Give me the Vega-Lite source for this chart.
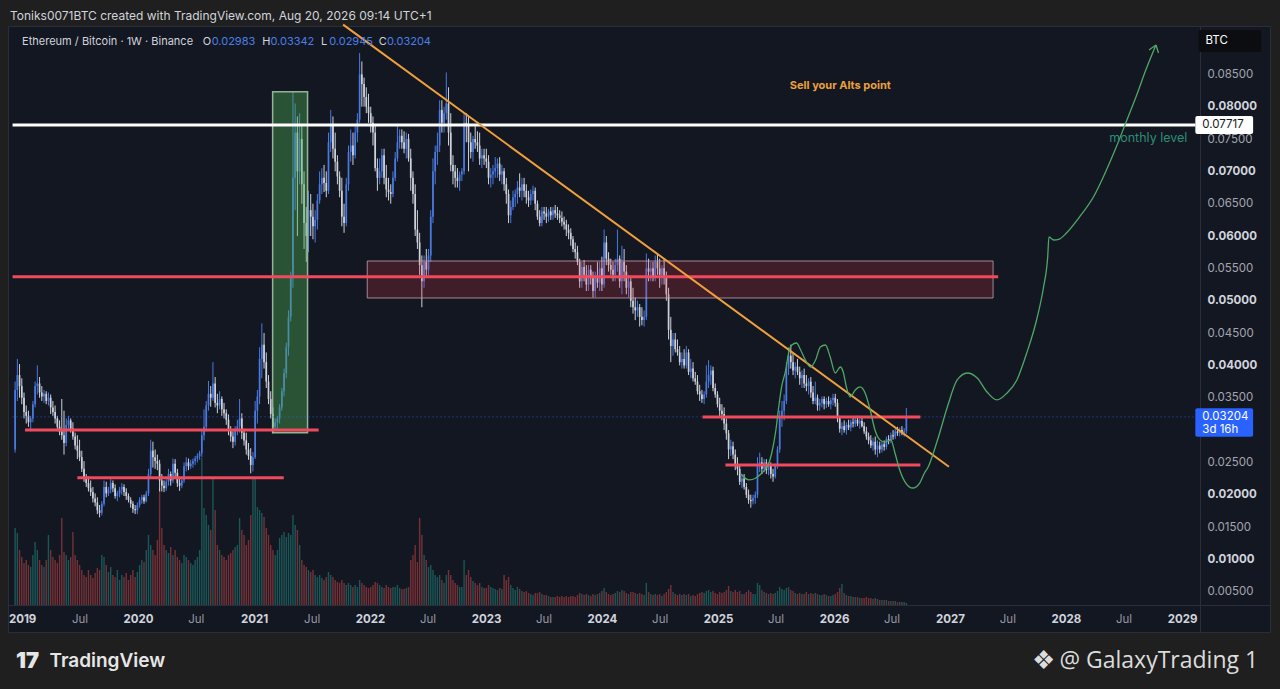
{
  "$schema": "https://vega.github.io/schema/vega-lite/v6.json",
  "width": 1262,
  "height": 606,
  "autosize": "none",
  "padding": {"left": 8, "top": 26, "right": 10, "bottom": 57},
  "background": "#1f1f1f",
  "config": {"view": {"fill": "#131722", "stroke": "#2a2e39"}, "font": "Inter", "axis": {"labelOverlap": false}},
  "title": {"text": "Toniks0071BTC created with TradingView.com, Aug 20, 2026 09:14 UTC+1", "anchor": "start", "frame": "group", "offset": 1, "dx": 2, "fontSize": 12, "fontWeight": "normal", "color": "#d1d4dc", "font": "Inter"},
  "datasets": {
    "candles": [
      {"t":"2018-12-10","o":0.0270,"h":0.0375,"l":0.0265,"c":0.0362,"v":770},
      {"t":"2018-12-17","o":0.0362,"h":0.0410,"l":0.0345,"c":0.0385,"v":720},
      {"t":"2018-12-24","o":0.0385,"h":0.0402,"l":0.0350,"c":0.0368,"v":550},
      {"t":"2018-12-31","o":0.0368,"h":0.0380,"l":0.0340,"c":0.0350,"v":480},
      {"t":"2019-01-07","o":0.0350,"h":0.0358,"l":0.0318,"c":0.0328,"v":420},
      {"t":"2019-01-14","o":0.0328,"h":0.0338,"l":0.0310,"c":0.0322,"v":450},
      {"t":"2019-01-21","o":0.0322,"h":0.0330,"l":0.0305,"c":0.0312,"v":400},
      {"t":"2019-01-28","o":0.0312,"h":0.0322,"l":0.0298,"c":0.0318,"v":380},
      {"t":"2019-02-04","o":0.0318,"h":0.0345,"l":0.0312,"c":0.0340,"v":500},
      {"t":"2019-02-11","o":0.0340,"h":0.0375,"l":0.0335,"c":0.0368,"v":630},
      {"t":"2019-02-18","o":0.0368,"h":0.0400,"l":0.0355,"c":0.0372,"v":550},
      {"t":"2019-02-25","o":0.0372,"h":0.0382,"l":0.0350,"c":0.0358,"v":450},
      {"t":"2019-03-04","o":0.0358,"h":0.0368,"l":0.0345,"c":0.0352,"v":400},
      {"t":"2019-03-11","o":0.0352,"h":0.0362,"l":0.0342,"c":0.0356,"v":380},
      {"t":"2019-03-18","o":0.0356,"h":0.0360,"l":0.0340,"c":0.0345,"v":450},
      {"t":"2019-03-25","o":0.0345,"h":0.0358,"l":0.0338,"c":0.0350,"v":700},
      {"t":"2019-04-01","o":0.0350,"h":0.0355,"l":0.0325,"c":0.0335,"v":550},
      {"t":"2019-04-08","o":0.0335,"h":0.0345,"l":0.0322,"c":0.0328,"v":480},
      {"t":"2019-04-15","o":0.0328,"h":0.0338,"l":0.0310,"c":0.0318,"v":450},
      {"t":"2019-04-22","o":0.0318,"h":0.0322,"l":0.0298,"c":0.0305,"v":420},
      {"t":"2019-04-29","o":0.0305,"h":0.0315,"l":0.0292,"c":0.0298,"v":500},
      {"t":"2019-05-06","o":0.0298,"h":0.0348,"l":0.0285,"c":0.0292,"v":870},
      {"t":"2019-05-13","o":0.0292,"h":0.0330,"l":0.0262,"c":0.0280,"v":530},
      {"t":"2019-05-20","o":0.0280,"h":0.0318,"l":0.0275,"c":0.0308,"v":500},
      {"t":"2019-05-27","o":0.0308,"h":0.0322,"l":0.0300,"c":0.0315,"v":450},
      {"t":"2019-06-03","o":0.0315,"h":0.0318,"l":0.0296,"c":0.0302,"v":480},
      {"t":"2019-06-10","o":0.0302,"h":0.0312,"l":0.0285,"c":0.0290,"v":730},
      {"t":"2019-06-17","o":0.0290,"h":0.0296,"l":0.0270,"c":0.0276,"v":500},
      {"t":"2019-06-24","o":0.0276,"h":0.0292,"l":0.0255,"c":0.0268,"v":450},
      {"t":"2019-07-01","o":0.0268,"h":0.0285,"l":0.0252,"c":0.0258,"v":400},
      {"t":"2019-07-08","o":0.0258,"h":0.0268,"l":0.0235,"c":0.0240,"v":350},
      {"t":"2019-07-15","o":0.0240,"h":0.0252,"l":0.0220,"c":0.0226,"v":300},
      {"t":"2019-07-22","o":0.0226,"h":0.0232,"l":0.0212,"c":0.0218,"v":280},
      {"t":"2019-07-29","o":0.0218,"h":0.0228,"l":0.0205,"c":0.0210,"v":350},
      {"t":"2019-08-05","o":0.0210,"h":0.0222,"l":0.0198,"c":0.0204,"v":300},
      {"t":"2019-08-12","o":0.0204,"h":0.0212,"l":0.0188,"c":0.0194,"v":270},
      {"t":"2019-08-19","o":0.0194,"h":0.0202,"l":0.0182,"c":0.0188,"v":320},
      {"t":"2019-08-26","o":0.0188,"h":0.0196,"l":0.0170,"c":0.0176,"v":370},
      {"t":"2019-09-02","o":0.0176,"h":0.0184,"l":0.0165,"c":0.0172,"v":350},
      {"t":"2019-09-09","o":0.0172,"h":0.0190,"l":0.0168,"c":0.0186,"v":500},
      {"t":"2019-09-16","o":0.0186,"h":0.0222,"l":0.0182,"c":0.0212,"v":480},
      {"t":"2019-09-23","o":0.0212,"h":0.0220,"l":0.0196,"c":0.0202,"v":400},
      {"t":"2019-09-30","o":0.0202,"h":0.0212,"l":0.0198,"c":0.0208,"v":330},
      {"t":"2019-10-07","o":0.0208,"h":0.0224,"l":0.0202,"c":0.0218,"v":380},
      {"t":"2019-10-14","o":0.0218,"h":0.0222,"l":0.0204,"c":0.0210,"v":300},
      {"t":"2019-10-21","o":0.0210,"h":0.0216,"l":0.0194,"c":0.0198,"v":280},
      {"t":"2019-10-28","o":0.0198,"h":0.0206,"l":0.0190,"c":0.0202,"v":350},
      {"t":"2019-11-04","o":0.0202,"h":0.0212,"l":0.0196,"c":0.0208,"v":250},
      {"t":"2019-11-11","o":0.0208,"h":0.0218,"l":0.0200,"c":0.0212,"v":300},
      {"t":"2019-11-18","o":0.0212,"h":0.0216,"l":0.0198,"c":0.0204,"v":280},
      {"t":"2019-11-25","o":0.0204,"h":0.0210,"l":0.0192,"c":0.0198,"v":320},
      {"t":"2019-12-02","o":0.0198,"h":0.0202,"l":0.0188,"c":0.0192,"v":250},
      {"t":"2019-12-09","o":0.0192,"h":0.0196,"l":0.0180,"c":0.0186,"v":300},
      {"t":"2019-12-16","o":0.0186,"h":0.0190,"l":0.0172,"c":0.0178,"v":350},
      {"t":"2019-12-23","o":0.0178,"h":0.0184,"l":0.0170,"c":0.0176,"v":280},
      {"t":"2019-12-30","o":0.0176,"h":0.0188,"l":0.0170,"c":0.0184,"v":330},
      {"t":"2020-01-06","o":0.0184,"h":0.0196,"l":0.0180,"c":0.0192,"v":400},
      {"t":"2020-01-13","o":0.0192,"h":0.0200,"l":0.0186,"c":0.0196,"v":450},
      {"t":"2020-01-20","o":0.0196,"h":0.0200,"l":0.0186,"c":0.0190,"v":430},
      {"t":"2020-01-27","o":0.0190,"h":0.0206,"l":0.0188,"c":0.0202,"v":550},
      {"t":"2020-02-03","o":0.0202,"h":0.0240,"l":0.0198,"c":0.0232,"v":700},
      {"t":"2020-02-10","o":0.0232,"h":0.0285,"l":0.0228,"c":0.0268,"v":600},
      {"t":"2020-02-17","o":0.0268,"h":0.0282,"l":0.0242,"c":0.0258,"v":550},
      {"t":"2020-02-24","o":0.0258,"h":0.0270,"l":0.0240,"c":0.0252,"v":500},
      {"t":"2020-03-02","o":0.0252,"h":0.0262,"l":0.0238,"c":0.0248,"v":650},
      {"t":"2020-03-09","o":0.0248,"h":0.0254,"l":0.0205,"c":0.0222,"v":1170},
      {"t":"2020-03-16","o":0.0222,"h":0.0232,"l":0.0205,"c":0.0214,"v":770},
      {"t":"2020-03-23","o":0.0214,"h":0.0222,"l":0.0204,"c":0.0210,"v":600},
      {"t":"2020-03-30","o":0.0210,"h":0.0224,"l":0.0206,"c":0.0220,"v":550},
      {"t":"2020-04-06","o":0.0220,"h":0.0240,"l":0.0214,"c":0.0232,"v":520},
      {"t":"2020-04-13","o":0.0232,"h":0.0236,"l":0.0214,"c":0.0222,"v":580},
      {"t":"2020-04-20","o":0.0222,"h":0.0256,"l":0.0218,"c":0.0248,"v":500},
      {"t":"2020-04-27","o":0.0248,"h":0.0255,"l":0.0225,"c":0.0234,"v":550},
      {"t":"2020-05-04","o":0.0234,"h":0.0240,"l":0.0212,"c":0.0218,"v":480},
      {"t":"2020-05-11","o":0.0218,"h":0.0226,"l":0.0206,"c":0.0214,"v":450},
      {"t":"2020-05-18","o":0.0214,"h":0.0228,"l":0.0210,"c":0.0222,"v":420},
      {"t":"2020-05-25","o":0.0222,"h":0.0250,"l":0.0218,"c":0.0244,"v":500},
      {"t":"2020-06-01","o":0.0244,"h":0.0258,"l":0.0236,"c":0.0250,"v":480},
      {"t":"2020-06-08","o":0.0250,"h":0.0256,"l":0.0238,"c":0.0244,"v":450},
      {"t":"2020-06-15","o":0.0244,"h":0.0254,"l":0.0240,"c":0.0248,"v":420},
      {"t":"2020-06-22","o":0.0248,"h":0.0256,"l":0.0242,"c":0.0252,"v":400},
      {"t":"2020-06-29","o":0.0252,"h":0.0260,"l":0.0246,"c":0.0256,"v":450},
      {"t":"2020-07-06","o":0.0256,"h":0.0264,"l":0.0250,"c":0.0260,"v":480},
      {"t":"2020-07-13","o":0.0260,"h":0.0268,"l":0.0254,"c":0.0264,"v":550},
      {"t":"2020-07-20","o":0.0264,"h":0.0300,"l":0.0258,"c":0.0292,"v":1470},
      {"t":"2020-07-27","o":0.0292,"h":0.0332,"l":0.0284,"c":0.0305,"v":970},
      {"t":"2020-08-03","o":0.0305,"h":0.0345,"l":0.0298,"c":0.0338,"v":900},
      {"t":"2020-08-10","o":0.0338,"h":0.0376,"l":0.0330,"c":0.0356,"v":800},
      {"t":"2020-08-17","o":0.0356,"h":0.0368,"l":0.0336,"c":0.0350,"v":750},
      {"t":"2020-08-24","o":0.0350,"h":0.0405,"l":0.0345,"c":0.0372,"v":1270},
      {"t":"2020-08-31","o":0.0372,"h":0.0382,"l":0.0335,"c":0.0342,"v":950},
      {"t":"2020-09-07","o":0.0342,"h":0.0356,"l":0.0326,"c":0.0338,"v":600},
      {"t":"2020-09-14","o":0.0338,"h":0.0360,"l":0.0332,"c":0.0348,"v":550},
      {"t":"2020-09-21","o":0.0348,"h":0.0352,"l":0.0322,"c":0.0332,"v":500},
      {"t":"2020-09-28","o":0.0332,"h":0.0342,"l":0.0318,"c":0.0326,"v":480},
      {"t":"2020-10-05","o":0.0326,"h":0.0332,"l":0.0308,"c":0.0316,"v":450},
      {"t":"2020-10-12","o":0.0316,"h":0.0324,"l":0.0292,"c":0.0300,"v":500},
      {"t":"2020-10-19","o":0.0300,"h":0.0306,"l":0.0282,"c":0.0290,"v":520},
      {"t":"2020-10-26","o":0.0290,"h":0.0298,"l":0.0272,"c":0.0282,"v":550},
      {"t":"2020-11-02","o":0.0282,"h":0.0306,"l":0.0276,"c":0.0300,"v":580},
      {"t":"2020-11-09","o":0.0300,"h":0.0316,"l":0.0292,"c":0.0306,"v":600},
      {"t":"2020-11-16","o":0.0306,"h":0.0348,"l":0.0296,"c":0.0318,"v":870},
      {"t":"2020-11-23","o":0.0318,"h":0.0326,"l":0.0286,"c":0.0296,"v":750},
      {"t":"2020-11-30","o":0.0296,"h":0.0302,"l":0.0276,"c":0.0284,"v":700},
      {"t":"2020-12-07","o":0.0284,"h":0.0296,"l":0.0262,"c":0.0270,"v":600},
      {"t":"2020-12-14","o":0.0270,"h":0.0280,"l":0.0254,"c":0.0260,"v":650},
      {"t":"2020-12-21","o":0.0260,"h":0.0272,"l":0.0233,"c":0.0246,"v":900},
      {"t":"2020-12-28","o":0.0246,"h":0.0266,"l":0.0236,"c":0.0258,"v":1270},
      {"t":"2021-01-04","o":0.0258,"h":0.0345,"l":0.0255,"c":0.0330,"v":1270},
      {"t":"2021-01-11","o":0.0330,"h":0.0362,"l":0.0310,"c":0.0352,"v":980},
      {"t":"2021-01-18","o":0.0352,"h":0.0428,"l":0.0340,"c":0.0410,"v":950},
      {"t":"2021-01-25","o":0.0410,"h":0.0465,"l":0.0380,"c":0.0432,"v":920},
      {"t":"2021-02-01","o":0.0432,"h":0.0450,"l":0.0395,"c":0.0405,"v":880},
      {"t":"2021-02-08","o":0.0405,"h":0.0420,"l":0.0365,"c":0.0375,"v":770},
      {"t":"2021-02-15","o":0.0375,"h":0.0385,"l":0.0340,"c":0.0348,"v":700},
      {"t":"2021-02-22","o":0.0348,"h":0.0360,"l":0.0318,"c":0.0325,"v":600},
      {"t":"2021-03-01","o":0.0325,"h":0.0335,"l":0.0295,"c":0.0305,"v":550},
      {"t":"2021-03-08","o":0.0305,"h":0.0318,"l":0.0298,"c":0.0312,"v":500},
      {"t":"2021-03-15","o":0.0312,"h":0.0322,"l":0.0302,"c":0.0318,"v":550},
      {"t":"2021-03-22","o":0.0318,"h":0.0340,"l":0.0310,"c":0.0335,"v":670},
      {"t":"2021-03-29","o":0.0335,"h":0.0365,"l":0.0330,"c":0.0360,"v":700},
      {"t":"2021-04-05","o":0.0360,"h":0.0395,"l":0.0352,"c":0.0388,"v":730},
      {"t":"2021-04-12","o":0.0388,"h":0.0435,"l":0.0380,"c":0.0428,"v":680},
      {"t":"2021-04-19","o":0.0428,"h":0.0485,"l":0.0415,"c":0.0475,"v":720},
      {"t":"2021-04-26","o":0.0475,"h":0.0545,"l":0.0468,"c":0.0535,"v":700},
      {"t":"2021-05-03","o":0.0535,"h":0.0823,"l":0.0520,"c":0.0690,"v":900},
      {"t":"2021-05-10","o":0.0690,"h":0.0805,"l":0.0640,"c":0.0760,"v":800},
      {"t":"2021-05-17","o":0.0760,"h":0.0785,"l":0.0600,"c":0.0700,"v":750},
      {"t":"2021-05-24","o":0.0700,"h":0.0790,"l":0.0680,"c":0.0750,"v":600},
      {"t":"2021-05-31","o":0.0750,"h":0.0770,"l":0.0650,"c":0.0680,"v":450},
      {"t":"2021-06-07","o":0.0680,"h":0.0700,"l":0.0580,"c":0.0620,"v":400},
      {"t":"2021-06-14","o":0.0620,"h":0.0645,"l":0.0560,"c":0.0600,"v":380},
      {"t":"2021-06-21","o":0.0600,"h":0.0670,"l":0.0575,"c":0.0640,"v":350},
      {"t":"2021-06-28","o":0.0640,"h":0.0665,"l":0.0600,"c":0.0630,"v":330},
      {"t":"2021-07-05","o":0.0630,"h":0.0650,"l":0.0595,"c":0.0615,"v":350},
      {"t":"2021-07-12","o":0.0615,"h":0.0640,"l":0.0590,"c":0.0625,"v":300},
      {"t":"2021-07-19","o":0.0625,"h":0.0665,"l":0.0610,"c":0.0655,"v":280},
      {"t":"2021-07-26","o":0.0655,"h":0.0700,"l":0.0650,"c":0.0680,"v":300},
      {"t":"2021-08-02","o":0.0680,"h":0.0705,"l":0.0665,"c":0.0690,"v":270},
      {"t":"2021-08-09","o":0.0690,"h":0.0710,"l":0.0668,"c":0.0682,"v":250},
      {"t":"2021-08-16","o":0.0682,"h":0.0700,"l":0.0660,"c":0.0670,"v":280},
      {"t":"2021-08-23","o":0.0670,"h":0.0760,"l":0.0665,"c":0.0745,"v":330},
      {"t":"2021-08-30","o":0.0745,"h":0.0795,"l":0.0730,"c":0.0770,"v":300},
      {"t":"2021-09-06","o":0.0770,"h":0.0785,"l":0.0720,"c":0.0735,"v":280},
      {"t":"2021-09-13","o":0.0735,"h":0.0760,"l":0.0700,"c":0.0715,"v":250},
      {"t":"2021-09-20","o":0.0715,"h":0.0725,"l":0.0680,"c":0.0692,"v":230},
      {"t":"2021-09-27","o":0.0692,"h":0.0700,"l":0.0660,"c":0.0670,"v":220},
      {"t":"2021-10-04","o":0.0670,"h":0.0690,"l":0.0615,"c":0.0630,"v":250},
      {"t":"2021-10-11","o":0.0630,"h":0.0650,"l":0.0605,"c":0.0620,"v":220},
      {"t":"2021-10-18","o":0.0620,"h":0.0690,"l":0.0615,"c":0.0680,"v":200},
      {"t":"2021-10-25","o":0.0680,"h":0.0740,"l":0.0670,"c":0.0730,"v":220},
      {"t":"2021-11-01","o":0.0730,"h":0.0765,"l":0.0715,"c":0.0740,"v":200},
      {"t":"2021-11-08","o":0.0740,"h":0.0760,"l":0.0710,"c":0.0725,"v":180},
      {"t":"2021-11-15","o":0.0725,"h":0.0770,"l":0.0720,"c":0.0760,"v":200},
      {"t":"2021-11-22","o":0.0760,"h":0.0790,"l":0.0745,"c":0.0780,"v":180},
      {"t":"2021-11-29","o":0.0780,"h":0.0883,"l":0.0775,"c":0.0850,"v":250},
      {"t":"2021-12-06","o":0.0850,"h":0.0870,"l":0.0800,"c":0.0835,"v":220},
      {"t":"2021-12-13","o":0.0835,"h":0.0845,"l":0.0800,"c":0.0815,"v":200},
      {"t":"2021-12-20","o":0.0815,"h":0.0830,"l":0.0790,"c":0.0800,"v":180},
      {"t":"2021-12-27","o":0.0800,"h":0.0820,"l":0.0775,"c":0.0790,"v":170},
      {"t":"2022-01-03","o":0.0790,"h":0.0800,"l":0.0760,"c":0.0775,"v":180},
      {"t":"2022-01-10","o":0.0775,"h":0.0785,"l":0.0740,"c":0.0760,"v":200},
      {"t":"2022-01-17","o":0.0760,"h":0.0770,"l":0.0700,"c":0.0705,"v":230},
      {"t":"2022-01-24","o":0.0705,"h":0.0720,"l":0.0670,"c":0.0690,"v":220},
      {"t":"2022-01-31","o":0.0690,"h":0.0720,"l":0.0680,"c":0.0700,"v":200},
      {"t":"2022-02-07","o":0.0700,"h":0.0735,"l":0.0690,"c":0.0725,"v":180},
      {"t":"2022-02-14","o":0.0725,"h":0.0735,"l":0.0680,"c":0.0690,"v":170},
      {"t":"2022-02-21","o":0.0690,"h":0.0710,"l":0.0660,"c":0.0672,"v":200},
      {"t":"2022-02-28","o":0.0672,"h":0.0690,"l":0.0655,"c":0.0668,"v":180},
      {"t":"2022-03-07","o":0.0668,"h":0.0680,"l":0.0650,"c":0.0665,"v":170},
      {"t":"2022-03-14","o":0.0665,"h":0.0700,"l":0.0660,"c":0.0690,"v":180},
      {"t":"2022-03-21","o":0.0690,"h":0.0730,"l":0.0685,"c":0.0720,"v":180},
      {"t":"2022-03-28","o":0.0720,"h":0.0770,"l":0.0715,"c":0.0745,"v":200},
      {"t":"2022-04-04","o":0.0745,"h":0.0765,"l":0.0735,"c":0.0755,"v":170},
      {"t":"2022-04-11","o":0.0755,"h":0.0765,"l":0.0735,"c":0.0745,"v":160},
      {"t":"2022-04-18","o":0.0745,"h":0.0762,"l":0.0728,"c":0.0735,"v":160},
      {"t":"2022-04-25","o":0.0735,"h":0.0760,"l":0.0720,"c":0.0750,"v":170},
      {"t":"2022-05-02","o":0.0750,"h":0.0758,"l":0.0715,"c":0.0720,"v":180},
      {"t":"2022-05-09","o":0.0720,"h":0.0735,"l":0.0670,"c":0.0690,"v":450},
      {"t":"2022-05-16","o":0.0690,"h":0.0700,"l":0.0650,"c":0.0665,"v":500},
      {"t":"2022-05-23","o":0.0665,"h":0.0680,"l":0.0600,"c":0.0610,"v":600},
      {"t":"2022-05-30","o":0.0610,"h":0.0640,"l":0.0580,"c":0.0590,"v":430},
      {"t":"2022-06-06","o":0.0590,"h":0.0605,"l":0.0540,"c":0.0555,"v":870},
      {"t":"2022-06-13","o":0.0555,"h":0.0570,"l":0.0490,"c":0.0530,"v":700},
      {"t":"2022-06-20","o":0.0530,"h":0.0570,"l":0.0520,"c":0.0560,"v":500},
      {"t":"2022-06-27","o":0.0560,"h":0.0580,"l":0.0535,"c":0.0548,"v":450},
      {"t":"2022-07-04","o":0.0548,"h":0.0580,"l":0.0540,"c":0.0570,"v":380},
      {"t":"2022-07-11","o":0.0570,"h":0.0640,"l":0.0560,"c":0.0630,"v":400},
      {"t":"2022-07-18","o":0.0630,"h":0.0720,"l":0.0620,"c":0.0700,"v":350},
      {"t":"2022-07-25","o":0.0700,"h":0.0740,"l":0.0680,"c":0.0730,"v":300},
      {"t":"2022-08-01","o":0.0730,"h":0.0760,"l":0.0710,"c":0.0740,"v":280},
      {"t":"2022-08-08","o":0.0740,"h":0.0810,"l":0.0730,"c":0.0795,"v":300},
      {"t":"2022-08-15","o":0.0795,"h":0.0810,"l":0.0760,"c":0.0775,"v":250},
      {"t":"2022-08-22","o":0.0775,"h":0.0800,"l":0.0760,"c":0.0790,"v":220},
      {"t":"2022-08-29","o":0.0790,"h":0.0853,"l":0.0780,"c":0.0805,"v":300},
      {"t":"2022-09-05","o":0.0805,"h":0.0830,"l":0.0740,"c":0.0760,"v":350},
      {"t":"2022-09-12","o":0.0760,"h":0.0790,"l":0.0700,"c":0.0710,"v":300},
      {"t":"2022-09-19","o":0.0710,"h":0.0725,"l":0.0680,"c":0.0700,"v":250},
      {"t":"2022-09-26","o":0.0700,"h":0.0710,"l":0.0675,"c":0.0690,"v":220},
      {"t":"2022-10-03","o":0.0690,"h":0.0705,"l":0.0675,"c":0.0685,"v":200},
      {"t":"2022-10-10","o":0.0685,"h":0.0700,"l":0.0670,"c":0.0695,"v":180},
      {"t":"2022-10-17","o":0.0695,"h":0.0705,"l":0.0685,"c":0.0700,"v":180},
      {"t":"2022-10-24","o":0.0700,"h":0.0790,"l":0.0695,"c":0.0775,"v":450},
      {"t":"2022-10-31","o":0.0775,"h":0.0790,"l":0.0745,"c":0.0770,"v":300},
      {"t":"2022-11-07","o":0.0770,"h":0.0785,"l":0.0700,"c":0.0745,"v":350},
      {"t":"2022-11-14","o":0.0745,"h":0.0760,"l":0.0720,"c":0.0730,"v":280},
      {"t":"2022-11-21","o":0.0730,"h":0.0755,"l":0.0715,"c":0.0750,"v":240},
      {"t":"2022-11-28","o":0.0750,"h":0.0770,"l":0.0735,"c":0.0745,"v":220},
      {"t":"2022-12-05","o":0.0745,"h":0.0762,"l":0.0730,"c":0.0740,"v":200},
      {"t":"2022-12-12","o":0.0740,"h":0.0760,"l":0.0710,"c":0.0720,"v":220},
      {"t":"2022-12-19","o":0.0720,"h":0.0735,"l":0.0705,"c":0.0725,"v":180},
      {"t":"2022-12-26","o":0.0725,"h":0.0735,"l":0.0710,"c":0.0720,"v":170},
      {"t":"2023-01-02","o":0.0720,"h":0.0735,"l":0.0705,"c":0.0715,"v":170},
      {"t":"2023-01-09","o":0.0715,"h":0.0725,"l":0.0680,"c":0.0690,"v":200},
      {"t":"2023-01-16","o":0.0690,"h":0.0705,"l":0.0675,"c":0.0695,"v":180},
      {"t":"2023-01-23","o":0.0695,"h":0.0710,"l":0.0680,"c":0.0700,"v":170},
      {"t":"2023-01-30","o":0.0700,"h":0.0722,"l":0.0690,"c":0.0705,"v":160},
      {"t":"2023-02-06","o":0.0705,"h":0.0720,"l":0.0690,"c":0.0712,"v":150},
      {"t":"2023-02-13","o":0.0712,"h":0.0722,"l":0.0685,"c":0.0695,"v":170},
      {"t":"2023-02-20","o":0.0695,"h":0.0710,"l":0.0680,"c":0.0700,"v":160},
      {"t":"2023-02-27","o":0.0700,"h":0.0705,"l":0.0670,"c":0.0680,"v":300},
      {"t":"2023-03-06","o":0.0680,"h":0.0690,"l":0.0650,"c":0.0665,"v":250},
      {"t":"2023-03-13","o":0.0665,"h":0.0672,"l":0.0620,"c":0.0632,"v":280},
      {"t":"2023-03-20","o":0.0632,"h":0.0655,"l":0.0620,"c":0.0645,"v":200},
      {"t":"2023-03-27","o":0.0645,"h":0.0670,"l":0.0640,"c":0.0660,"v":170},
      {"t":"2023-04-03","o":0.0660,"h":0.0672,"l":0.0645,"c":0.0665,"v":150},
      {"t":"2023-04-10","o":0.0665,"h":0.0685,"l":0.0650,"c":0.0675,"v":180},
      {"t":"2023-04-17","o":0.0675,"h":0.0697,"l":0.0660,"c":0.0670,"v":160},
      {"t":"2023-04-24","o":0.0670,"h":0.0690,"l":0.0655,"c":0.0680,"v":140},
      {"t":"2023-05-01","o":0.0680,"h":0.0690,"l":0.0660,"c":0.0670,"v":130},
      {"t":"2023-05-08","o":0.0670,"h":0.0680,"l":0.0650,"c":0.0660,"v":140},
      {"t":"2023-05-15","o":0.0660,"h":0.0670,"l":0.0645,"c":0.0655,"v":120},
      {"t":"2023-05-22","o":0.0655,"h":0.0672,"l":0.0648,"c":0.0665,"v":110},
      {"t":"2023-05-29","o":0.0665,"h":0.0678,"l":0.0655,"c":0.0670,"v":100},
      {"t":"2023-06-05","o":0.0670,"h":0.0675,"l":0.0640,"c":0.0650,"v":120},
      {"t":"2023-06-12","o":0.0650,"h":0.0655,"l":0.0625,"c":0.0630,"v":120},
      {"t":"2023-06-19","o":0.0630,"h":0.0640,"l":0.0615,"c":0.0620,"v":130},
      {"t":"2023-06-26","o":0.0620,"h":0.0645,"l":0.0615,"c":0.0638,"v":110},
      {"t":"2023-07-03","o":0.0638,"h":0.0645,"l":0.0625,"c":0.0635,"v":100},
      {"t":"2023-07-10","o":0.0635,"h":0.0645,"l":0.0620,"c":0.0630,"v":100},
      {"t":"2023-07-17","o":0.0630,"h":0.0642,"l":0.0622,"c":0.0638,"v":90},
      {"t":"2023-07-24","o":0.0638,"h":0.0645,"l":0.0625,"c":0.0632,"v":80},
      {"t":"2023-07-31","o":0.0632,"h":0.0645,"l":0.0625,"c":0.0640,"v":80},
      {"t":"2023-08-07","o":0.0640,"h":0.0648,"l":0.0628,"c":0.0635,"v":80},
      {"t":"2023-08-14","o":0.0635,"h":0.0645,"l":0.0625,"c":0.0632,"v":90},
      {"t":"2023-08-21","o":0.0632,"h":0.0640,"l":0.0620,"c":0.0628,"v":80},
      {"t":"2023-08-28","o":0.0628,"h":0.0638,"l":0.0615,"c":0.0622,"v":90},
      {"t":"2023-09-04","o":0.0622,"h":0.0630,"l":0.0610,"c":0.0618,"v":80},
      {"t":"2023-09-11","o":0.0618,"h":0.0625,"l":0.0600,"c":0.0610,"v":90},
      {"t":"2023-09-18","o":0.0610,"h":0.0618,"l":0.0595,"c":0.0605,"v":80},
      {"t":"2023-09-25","o":0.0605,"h":0.0612,"l":0.0585,"c":0.0595,"v":90},
      {"t":"2023-10-02","o":0.0595,"h":0.0600,"l":0.0575,"c":0.0580,"v":90},
      {"t":"2023-10-09","o":0.0580,"h":0.0590,"l":0.0565,"c":0.0575,"v":80},
      {"t":"2023-10-16","o":0.0575,"h":0.0585,"l":0.0555,"c":0.0560,"v":100},
      {"t":"2023-10-23","o":0.0560,"h":0.0565,"l":0.0520,"c":0.0530,"v":120},
      {"t":"2023-10-30","o":0.0530,"h":0.0560,"l":0.0520,"c":0.0552,"v":110},
      {"t":"2023-11-06","o":0.0552,"h":0.0563,"l":0.0530,"c":0.0540,"v":100},
      {"t":"2023-11-13","o":0.0540,"h":0.0555,"l":0.0515,"c":0.0525,"v":110},
      {"t":"2023-11-20","o":0.0525,"h":0.0555,"l":0.0515,"c":0.0548,"v":100},
      {"t":"2023-11-27","o":0.0548,"h":0.0555,"l":0.0525,"c":0.0535,"v":90},
      {"t":"2023-12-04","o":0.0535,"h":0.0545,"l":0.0505,"c":0.0515,"v":110},
      {"t":"2023-12-11","o":0.0515,"h":0.0545,"l":0.0505,"c":0.0535,"v":100},
      {"t":"2023-12-18","o":0.0535,"h":0.0560,"l":0.0520,"c":0.0528,"v":110},
      {"t":"2023-12-25","o":0.0528,"h":0.0560,"l":0.0515,"c":0.0550,"v":120},
      {"t":"2024-01-01","o":0.0550,"h":0.0568,"l":0.0515,"c":0.0525,"v":140},
      {"t":"2024-01-08","o":0.0525,"h":0.0610,"l":0.0520,"c":0.0590,"v":170},
      {"t":"2024-01-15","o":0.0590,"h":0.0600,"l":0.0555,"c":0.0565,"v":130},
      {"t":"2024-01-22","o":0.0565,"h":0.0575,"l":0.0545,"c":0.0555,"v":110},
      {"t":"2024-01-29","o":0.0555,"h":0.0565,"l":0.0540,"c":0.0548,"v":100},
      {"t":"2024-02-05","o":0.0548,"h":0.0560,"l":0.0530,"c":0.0540,"v":110},
      {"t":"2024-02-12","o":0.0540,"h":0.0565,"l":0.0530,"c":0.0555,"v":120},
      {"t":"2024-02-19","o":0.0555,"h":0.0610,"l":0.0545,"c":0.0565,"v":140},
      {"t":"2024-02-26","o":0.0565,"h":0.0570,"l":0.0520,"c":0.0530,"v":130},
      {"t":"2024-03-04","o":0.0530,"h":0.0585,"l":0.0510,"c":0.0560,"v":150},
      {"t":"2024-03-11","o":0.0560,"h":0.0580,"l":0.0530,"c":0.0545,"v":140},
      {"t":"2024-03-18","o":0.0545,"h":0.0555,"l":0.0510,"c":0.0520,"v":120},
      {"t":"2024-03-25","o":0.0520,"h":0.0540,"l":0.0505,"c":0.0530,"v":110},
      {"t":"2024-04-01","o":0.0530,"h":0.0535,"l":0.0490,"c":0.0500,"v":130},
      {"t":"2024-04-08","o":0.0500,"h":0.0520,"l":0.0480,"c":0.0490,"v":130},
      {"t":"2024-04-15","o":0.0490,"h":0.0505,"l":0.0470,"c":0.0485,"v":120},
      {"t":"2024-04-22","o":0.0485,"h":0.0500,"l":0.0475,"c":0.0490,"v":110},
      {"t":"2024-04-29","o":0.0490,"h":0.0495,"l":0.0460,"c":0.0475,"v":120},
      {"t":"2024-05-06","o":0.0475,"h":0.0490,"l":0.0462,"c":0.0470,"v":110},
      {"t":"2024-05-13","o":0.0470,"h":0.0485,"l":0.0460,"c":0.0475,"v":100},
      {"t":"2024-05-20","o":0.0475,"h":0.0573,"l":0.0470,"c":0.0550,"v":220},
      {"t":"2024-05-27","o":0.0550,"h":0.0565,"l":0.0530,"c":0.0545,"v":130},
      {"t":"2024-06-03","o":0.0545,"h":0.0560,"l":0.0530,"c":0.0550,"v":110},
      {"t":"2024-06-10","o":0.0550,"h":0.0560,"l":0.0530,"c":0.0535,"v":100},
      {"t":"2024-06-17","o":0.0535,"h":0.0570,"l":0.0530,"c":0.0560,"v":110},
      {"t":"2024-06-24","o":0.0560,"h":0.0572,"l":0.0540,"c":0.0550,"v":100},
      {"t":"2024-07-01","o":0.0550,"h":0.0565,"l":0.0520,"c":0.0540,"v":110},
      {"t":"2024-07-08","o":0.0540,"h":0.0555,"l":0.0525,"c":0.0550,"v":90},
      {"t":"2024-07-15","o":0.0550,"h":0.0565,"l":0.0525,"c":0.0535,"v":110},
      {"t":"2024-07-22","o":0.0535,"h":0.0545,"l":0.0500,"c":0.0510,"v":130},
      {"t":"2024-07-29","o":0.0510,"h":0.0520,"l":0.0440,"c":0.0455,"v":160},
      {"t":"2024-08-05","o":0.0455,"h":0.0475,"l":0.0405,"c":0.0430,"v":200},
      {"t":"2024-08-12","o":0.0430,"h":0.0450,"l":0.0415,"c":0.0440,"v":130},
      {"t":"2024-08-19","o":0.0440,"h":0.0450,"l":0.0420,"c":0.0425,"v":110},
      {"t":"2024-08-26","o":0.0425,"h":0.0440,"l":0.0415,"c":0.0420,"v":100},
      {"t":"2024-09-02","o":0.0420,"h":0.0430,"l":0.0400,"c":0.0405,"v":110},
      {"t":"2024-09-09","o":0.0405,"h":0.0420,"l":0.0395,"c":0.0410,"v":100},
      {"t":"2024-09-16","o":0.0410,"h":0.0425,"l":0.0395,"c":0.0400,"v":110},
      {"t":"2024-09-23","o":0.0400,"h":0.0430,"l":0.0395,"c":0.0420,"v":100},
      {"t":"2024-09-30","o":0.0420,"h":0.0425,"l":0.0385,"c":0.0390,"v":110},
      {"t":"2024-10-07","o":0.0390,"h":0.0410,"l":0.0380,"c":0.0395,"v":90},
      {"t":"2024-10-14","o":0.0395,"h":0.0405,"l":0.0375,"c":0.0380,"v":100},
      {"t":"2024-10-21","o":0.0380,"h":0.0390,"l":0.0370,"c":0.0375,"v":90},
      {"t":"2024-10-28","o":0.0375,"h":0.0385,"l":0.0355,"c":0.0360,"v":110},
      {"t":"2024-11-04","o":0.0360,"h":0.0370,"l":0.0345,"c":0.0355,"v":120},
      {"t":"2024-11-11","o":0.0355,"h":0.0362,"l":0.0342,"c":0.0348,"v":130},
      {"t":"2024-11-18","o":0.0348,"h":0.0360,"l":0.0340,"c":0.0355,"v":120},
      {"t":"2024-11-25","o":0.0355,"h":0.0400,"l":0.0350,"c":0.0375,"v":140},
      {"t":"2024-12-02","o":0.0375,"h":0.0408,"l":0.0365,"c":0.0385,"v":150},
      {"t":"2024-12-09","o":0.0385,"h":0.0400,"l":0.0370,"c":0.0392,"v":130},
      {"t":"2024-12-16","o":0.0392,"h":0.0398,"l":0.0360,"c":0.0365,"v":140},
      {"t":"2024-12-23","o":0.0365,"h":0.0372,"l":0.0350,"c":0.0355,"v":120},
      {"t":"2024-12-30","o":0.0355,"h":0.0360,"l":0.0335,"c":0.0340,"v":110},
      {"t":"2025-01-06","o":0.0340,"h":0.0350,"l":0.0320,"c":0.0330,"v":130},
      {"t":"2025-01-13","o":0.0330,"h":0.0340,"l":0.0315,"c":0.0325,"v":120},
      {"t":"2025-01-20","o":0.0325,"h":0.0335,"l":0.0300,"c":0.0310,"v":130},
      {"t":"2025-01-27","o":0.0310,"h":0.0318,"l":0.0285,"c":0.0295,"v":150},
      {"t":"2025-02-03","o":0.0295,"h":0.0300,"l":0.0255,"c":0.0270,"v":190},
      {"t":"2025-02-10","o":0.0270,"h":0.0285,"l":0.0260,"c":0.0275,"v":140},
      {"t":"2025-02-17","o":0.0275,"h":0.0282,"l":0.0255,"c":0.0262,"v":130},
      {"t":"2025-02-24","o":0.0262,"h":0.0270,"l":0.0238,"c":0.0245,"v":150},
      {"t":"2025-03-03","o":0.0245,"h":0.0258,"l":0.0230,"c":0.0240,"v":130},
      {"t":"2025-03-10","o":0.0240,"h":0.0245,"l":0.0215,"c":0.0220,"v":140},
      {"t":"2025-03-17","o":0.0220,"h":0.0232,"l":0.0210,"c":0.0225,"v":110},
      {"t":"2025-03-24","o":0.0225,"h":0.0232,"l":0.0208,"c":0.0212,"v":110},
      {"t":"2025-03-31","o":0.0212,"h":0.0218,"l":0.0195,"c":0.0200,"v":130},
      {"t":"2025-04-07","o":0.0200,"h":0.0208,"l":0.0186,"c":0.0192,"v":150},
      {"t":"2025-04-14","o":0.0192,"h":0.0200,"l":0.0180,"c":0.0190,"v":130},
      {"t":"2025-04-21","o":0.0190,"h":0.0200,"l":0.0185,"c":0.0195,"v":110},
      {"t":"2025-04-28","o":0.0195,"h":0.0205,"l":0.0186,"c":0.0200,"v":110},
      {"t":"2025-05-05","o":0.0200,"h":0.0258,"l":0.0195,"c":0.0245,"v":220},
      {"t":"2025-05-12","o":0.0245,"h":0.0265,"l":0.0235,"c":0.0250,"v":200},
      {"t":"2025-05-19","o":0.0250,"h":0.0258,"l":0.0232,"c":0.0240,"v":150},
      {"t":"2025-05-26","o":0.0240,"h":0.0255,"l":0.0235,"c":0.0250,"v":130},
      {"t":"2025-06-02","o":0.0250,"h":0.0255,"l":0.0232,"c":0.0238,"v":120},
      {"t":"2025-06-09","o":0.0238,"h":0.0250,"l":0.0230,"c":0.0245,"v":110},
      {"t":"2025-06-16","o":0.0245,"h":0.0250,"l":0.0225,"c":0.0232,"v":120},
      {"t":"2025-06-23","o":0.0232,"h":0.0240,"l":0.0220,"c":0.0228,"v":110},
      {"t":"2025-06-30","o":0.0228,"h":0.0248,"l":0.0225,"c":0.0245,"v":120},
      {"t":"2025-07-07","o":0.0245,"h":0.0275,"l":0.0240,"c":0.0270,"v":140},
      {"t":"2025-07-14","o":0.0270,"h":0.0330,"l":0.0265,"c":0.0320,"v":180},
      {"t":"2025-07-21","o":0.0320,"h":0.0345,"l":0.0305,"c":0.0330,"v":160},
      {"t":"2025-07-28","o":0.0330,"h":0.0355,"l":0.0315,"c":0.0345,"v":150},
      {"t":"2025-08-04","o":0.0345,"h":0.0405,"l":0.0340,"c":0.0395,"v":170},
      {"t":"2025-08-11","o":0.0395,"h":0.0428,"l":0.0385,"c":0.0415,"v":180},
      {"t":"2025-08-18","o":0.0415,"h":0.0432,"l":0.0395,"c":0.0405,"v":150},
      {"t":"2025-08-25","o":0.0405,"h":0.0418,"l":0.0385,"c":0.0392,"v":140},
      {"t":"2025-09-01","o":0.0392,"h":0.0405,"l":0.0380,"c":0.0398,"v":120},
      {"t":"2025-09-08","o":0.0398,"h":0.0410,"l":0.0385,"c":0.0390,"v":110},
      {"t":"2025-09-15","o":0.0390,"h":0.0398,"l":0.0370,"c":0.0380,"v":120},
      {"t":"2025-09-22","o":0.0380,"h":0.0392,"l":0.0365,"c":0.0385,"v":110},
      {"t":"2025-09-29","o":0.0385,"h":0.0395,"l":0.0365,"c":0.0372,"v":110},
      {"t":"2025-10-06","o":0.0372,"h":0.0385,"l":0.0360,"c":0.0368,"v":130},
      {"t":"2025-10-13","o":0.0368,"h":0.0380,"l":0.0355,"c":0.0375,"v":110},
      {"t":"2025-10-20","o":0.0375,"h":0.0382,"l":0.0350,"c":0.0358,"v":120},
      {"t":"2025-10-27","o":0.0358,"h":0.0368,"l":0.0340,"c":0.0345,"v":110},
      {"t":"2025-11-03","o":0.0345,"h":0.0375,"l":0.0340,"c":0.0350,"v":120},
      {"t":"2025-11-10","o":0.0350,"h":0.0355,"l":0.0330,"c":0.0338,"v":110},
      {"t":"2025-11-17","o":0.0338,"h":0.0348,"l":0.0330,"c":0.0342,"v":100},
      {"t":"2025-11-24","o":0.0342,"h":0.0352,"l":0.0335,"c":0.0348,"v":100},
      {"t":"2025-12-01","o":0.0348,"h":0.0352,"l":0.0332,"c":0.0340,"v":110},
      {"t":"2025-12-08","o":0.0340,"h":0.0350,"l":0.0334,"c":0.0345,"v":100},
      {"t":"2025-12-15","o":0.0345,"h":0.0352,"l":0.0336,"c":0.0340,"v":90},
      {"t":"2025-12-22","o":0.0340,"h":0.0350,"l":0.0332,"c":0.0346,"v":90},
      {"t":"2025-12-29","o":0.0346,"h":0.0356,"l":0.0338,"c":0.0350,"v":100},
      {"t":"2026-01-05","o":0.0350,"h":0.0356,"l":0.0336,"c":0.0342,"v":110},
      {"t":"2026-01-12","o":0.0342,"h":0.0348,"l":0.0312,"c":0.0318,"v":130},
      {"t":"2026-01-19","o":0.0318,"h":0.0322,"l":0.0296,"c":0.0302,"v":170},
      {"t":"2026-01-26","o":0.0302,"h":0.0312,"l":0.0292,"c":0.0306,"v":210},
      {"t":"2026-02-02","o":0.0306,"h":0.0315,"l":0.0296,"c":0.0300,"v":120},
      {"t":"2026-02-09","o":0.0300,"h":0.0312,"l":0.0293,"c":0.0308,"v":100},
      {"t":"2026-02-16","o":0.0308,"h":0.0316,"l":0.0300,"c":0.0304,"v":90},
      {"t":"2026-02-23","o":0.0304,"h":0.0316,"l":0.0298,"c":0.0312,"v":90},
      {"t":"2026-03-02","o":0.0312,"h":0.0320,"l":0.0304,"c":0.0310,"v":80},
      {"t":"2026-03-09","o":0.0310,"h":0.0320,"l":0.0305,"c":0.0316,"v":80},
      {"t":"2026-03-16","o":0.0316,"h":0.0322,"l":0.0306,"c":0.0310,"v":80},
      {"t":"2026-03-23","o":0.0310,"h":0.0318,"l":0.0302,"c":0.0314,"v":70},
      {"t":"2026-03-30","o":0.0314,"h":0.0320,"l":0.0304,"c":0.0306,"v":70},
      {"t":"2026-04-06","o":0.0306,"h":0.0312,"l":0.0294,"c":0.0298,"v":70},
      {"t":"2026-04-13","o":0.0298,"h":0.0305,"l":0.0285,"c":0.0290,"v":80},
      {"t":"2026-04-20","o":0.0290,"h":0.0296,"l":0.0278,"c":0.0284,"v":70},
      {"t":"2026-04-27","o":0.0284,"h":0.0292,"l":0.0272,"c":0.0276,"v":70},
      {"t":"2026-05-04","o":0.0276,"h":0.0288,"l":0.0268,"c":0.0282,"v":60},
      {"t":"2026-05-11","o":0.0282,"h":0.0290,"l":0.0262,"c":0.0270,"v":70},
      {"t":"2026-05-18","o":0.0270,"h":0.0284,"l":0.0258,"c":0.0276,"v":60},
      {"t":"2026-05-25","o":0.0276,"h":0.0282,"l":0.0264,"c":0.0270,"v":50},
      {"t":"2026-06-01","o":0.0270,"h":0.0282,"l":0.0265,"c":0.0278,"v":50},
      {"t":"2026-06-08","o":0.0278,"h":0.0284,"l":0.0268,"c":0.0274,"v":50},
      {"t":"2026-06-15","o":0.0274,"h":0.0290,"l":0.0270,"c":0.0286,"v":50},
      {"t":"2026-06-22","o":0.0286,"h":0.0292,"l":0.0278,"c":0.0284,"v":40},
      {"t":"2026-06-29","o":0.0284,"h":0.0296,"l":0.0280,"c":0.0292,"v":40},
      {"t":"2026-07-06","o":0.0292,"h":0.0300,"l":0.0285,"c":0.0290,"v":40},
      {"t":"2026-07-13","o":0.0290,"h":0.0302,"l":0.0286,"c":0.0298,"v":40},
      {"t":"2026-07-20","o":0.0298,"h":0.0305,"l":0.0291,"c":0.0295,"v":30},
      {"t":"2026-07-27","o":0.0295,"h":0.0304,"l":0.0290,"c":0.0300,"v":30},
      {"t":"2026-08-03","o":0.0300,"h":0.0306,"l":0.0292,"c":0.0296,"v":30},
      {"t":"2026-08-10","o":0.0296,"h":0.0303,"l":0.0290,"c":0.02983,"v":30},
      {"t":"2026-08-17","o":0.02983,"h":0.03342,"l":0.02945,"c":0.03204,"v":20}
    ],
    "redLines": [
      {"a":"2019-01-10","b":"2021-07-23","p":0.0300},
      {"a":"2019-06-24","b":"2021-04-04","p":0.02263},
      {"a":"2018-12-02","b":"2027-06-02","p":0.0537},
      {"a":"2024-11-13","b":"2026-09-30","p":0.0320},
      {"a":"2025-01-24","b":"2026-09-30","p":0.0246}
    ],
    "curve": [
      {"t":"2025-03-14","p":0.02320},{"t":"2025-04-08","p":0.02228},{"t":"2025-04-30","p":0.02259},
      {"t":"2025-05-19","p":0.02336},{"t":"2025-06-10","p":0.02490},{"t":"2025-06-19","p":0.02645},
      {"t":"2025-07-02","p":0.03001},{"t":"2025-07-11","p":0.03356},{"t":"2025-07-20","p":0.03666},
      {"t":"2025-08-02","p":0.03928},{"t":"2025-08-11","p":0.04191},{"t":"2025-08-21","p":0.04315},
      {"t":"2025-09-05","p":0.04346},{"t":"2025-09-18","p":0.04238},{"t":"2025-10-03","p":0.04083},
      {"t":"2025-10-19","p":0.03975},{"t":"2025-11-04","p":0.04083},{"t":"2025-11-19","p":0.04284},
      {"t":"2025-12-05","p":0.04315},{"t":"2025-12-20","p":0.04130},{"t":"2026-01-05","p":0.03882},
      {"t":"2026-01-21","p":0.03975},{"t":"2026-01-30","p":0.03898},{"t":"2026-02-09","p":0.03666},
      {"t":"2026-02-21","p":0.03511},{"t":"2026-03-09","p":0.03619},{"t":"2026-03-24","p":0.03666},
      {"t":"2026-04-09","p":0.03573},{"t":"2026-04-25","p":0.03310},{"t":"2026-05-10","p":0.03001},
      {"t":"2026-05-26","p":0.02846},{"t":"2026-06-10","p":0.02815},{"t":"2026-06-29","p":0.02846},
      {"t":"2026-07-12","p":0.02645},{"t":"2026-07-27","p":0.02382},{"t":"2026-08-15","p":0.02181},
      {"t":"2026-09-06","p":0.02104},{"t":"2026-09-28","p":0.02181},{"t":"2026-10-13","p":0.02336},
      {"t":"2026-10-23","p":0.02413},{"t":"2026-11-23","p":0.02846},{"t":"2026-12-24","p":0.03356},
      {"t":"2027-01-24","p":0.03774},{"t":"2027-02-25","p":0.03882},{"t":"2027-03-28","p":0.03805},
      {"t":"2027-04-28","p":0.03588},{"t":"2027-05-29","p":0.03465},{"t":"2027-06-30","p":0.03573},
      {"t":"2027-07-31","p":0.03774},{"t":"2027-08-31","p":0.04191},{"t":"2027-10-01","p":0.04702},
      {"t":"2027-10-23","p":0.05212},{"t":"2027-11-05","p":0.05676},{"t":"2027-11-09","p":0.05985},
      {"t":"2027-11-24","p":0.05939},{"t":"2027-12-12","p":0.05954},{"t":"2028-01-03","p":0.06047},
      {"t":"2028-02-13","p":0.06294},{"t":"2028-03-28","p":0.06604},{"t":"2028-05-08","p":0.07021},
      {"t":"2028-06-08","p":0.07377},{"t":"2028-07-09","p":0.07763},{"t":"2028-08-09","p":0.08150},
      {"t":"2028-09-09","p":0.08567},{"t":"2028-10-11","p":0.08954}
    ]
  },
  "resolve": {"scale": {"y": "independent"}},
  "layer": [
    {
      "data": {"name": "candles"},
      "mark": {"type": "bar", "size": 1.4, "opacity": 0.45},
      "encoding": {
        "x": {"field": "t", "type": "temporal", "title": null, "scale": {"type": "utc", "domain": [{"year": 2018, "month": 12, "date": 3, "hours": 8, "utc": true}, {"year": 2029, "month": 9, "date": 19, "hours": 10, "utc": true}]}},
        "y": {"field": "v", "type": "quantitative", "scale": {"domain": [-270, 5790], "nice": false}, "axis": null},
        "y2": {"datum": 0},
        "color": {"condition": {"test": "datum.c >= datum.o", "value": "#26a69a"}, "value": "#ef5350"}
      }
    },
    {
      "resolve": {"axis": {"y": "independent"}},
      "layer": [
        {
          "data": {"name": "candles"},
          "mark": {"type": "rule", "strokeWidth": 1},
          "encoding": {
            "x": {"field": "t", "type": "temporal", "title": null,
              "scale": {"type": "utc", "domain": [{"year": 2018, "month": 12, "date": 3, "hours": 8, "utc": true}, {"year": 2029, "month": 9, "date": 19, "hours": 10, "utc": true}]},
              "axis": {"orient": "bottom", "offset": -27, "title": null,
                "values": [
                  {"year": 2019, "month": 1, "date": 1, "utc": true}, {"year": 2019, "month": 7, "date": 1, "utc": true},
                  {"year": 2020, "month": 1, "date": 1, "utc": true}, {"year": 2020, "month": 7, "date": 1, "utc": true},
                  {"year": 2021, "month": 1, "date": 1, "utc": true}, {"year": 2021, "month": 7, "date": 1, "utc": true},
                  {"year": 2022, "month": 1, "date": 1, "utc": true}, {"year": 2022, "month": 7, "date": 1, "utc": true},
                  {"year": 2023, "month": 1, "date": 1, "utc": true}, {"year": 2023, "month": 7, "date": 1, "utc": true},
                  {"year": 2024, "month": 1, "date": 1, "utc": true}, {"year": 2024, "month": 7, "date": 1, "utc": true},
                  {"year": 2025, "month": 1, "date": 1, "utc": true}, {"year": 2025, "month": 7, "date": 1, "utc": true},
                  {"year": 2026, "month": 1, "date": 1, "utc": true}, {"year": 2026, "month": 7, "date": 1, "utc": true},
                  {"year": 2027, "month": 1, "date": 1, "utc": true}, {"year": 2027, "month": 7, "date": 1, "utc": true},
                  {"year": 2028, "month": 1, "date": 1, "utc": true}, {"year": 2028, "month": 7, "date": 1, "utc": true},
                  {"year": 2029, "month": 1, "date": 1, "utc": true}
                ],
                "labelExpr": "utcmonth(datum.value) == 0 ? utcFormat(datum.value, '%Y') : 'Jul'",
                "labelFont": "Inter", "labelFontSize": 11.5,
                "labelFontWeight": {"condition": {"test": "utcmonth(datum.value) == 0", "value": "bold"}, "value": "normal"},
                "labelColor": {"condition": {"test": "utcmonth(datum.value) == 0", "value": "#d1d4dc"}, "value": "#9598a1"},
                "labelPadding": 8, "labelFlush": false, "labelOverlap": false, "labelBound": false, "ticks": false, "grid": false, "domain": true, "domainColor": "#2a2e39"}
            },
            "y": {"field": "l", "type": "quantitative", "title": null,
              "scale": {"domain": [-0.00123, 0.09248], "nice": false, "zero": false},
              "axis": {"orient": "right", "offset": -70, "title": null,
                "values": [0.01, 0.02, 0.04, 0.05, 0.06, 0.07, 0.08],
                "format": ".5f", "labelAlign": "left", "labelBaseline": "middle", "labelPadding": 7, "labelFont": "Inter", "labelFontSize": 11.5,
                "labelFontWeight": "bold", "labelColor": "#d1d4dc",
                "labelOverlap": false, "labelBound": false, "labelFlush": false, "ticks": false, "grid": false, "domain": true, "domainColor": "#2a2e39"}
            },
            "y2": {"field": "h"},
            "color": {"condition": {"test": "datum.c >= datum.o", "value": "#4a79e0"}, "value": "#cdd1da"}
          }
        },
        {
          "data": {"name": "candles"},
          "mark": {"type": "bar", "size": 1.7},
          "encoding": {
            "x": {"field": "t", "type": "temporal", "title": null, "scale": {"type": "utc", "domain": [{"year": 2018, "month": 12, "date": 3, "hours": 8, "utc": true}, {"year": 2029, "month": 9, "date": 19, "hours": 10, "utc": true}]}},
            "y": {"field": "o", "type": "quantitative", "title": null, "scale": {"domain": [-0.00123, 0.09248], "nice": false, "zero": false},
              "axis": {"orient": "right", "offset": -70, "title": null,
                "values": [0.005, 0.015, 0.025, 0.035, 0.045, 0.055, 0.065, 0.075, 0.085],
                "format": ".5f", "labelAlign": "left", "labelBaseline": "middle", "labelPadding": 7, "labelFont": "Inter", "labelFontSize": 11.5,
                "labelFontWeight": "normal", "labelColor": "#a3a6af",
                "labelOverlap": false, "labelBound": false, "labelFlush": false, "ticks": false, "grid": false, "domain": false}
            },
            "y2": {"field": "c"},
            "color": {"condition": {"test": "datum.c >= datum.o", "value": "#4a79e0"}, "value": "#cdd1da"}
          }
        },
        {
          "data": {"values": [{"a": "2021-12-23", "b": "2027-05-17", "p1": 0.05042, "p2": 0.05614}]},
          "mark": {"type": "rect", "fill": "#f23645", "fillOpacity": 0.2, "stroke": "#c7a3ae", "strokeWidth": 1, "strokeOpacity": 0.8},
          "encoding": {
            "x": {"field": "a", "type": "temporal", "title": null, "scale": {"type": "utc", "domain": [{"year": 2018, "month": 12, "date": 3, "hours": 8, "utc": true}, {"year": 2029, "month": 9, "date": 19, "hours": 10, "utc": true}]}},
            "x2": {"field": "b"},
            "y": {"field": "p1", "type": "quantitative", "title": null, "scale": {"domain": [-0.00123, 0.09248], "nice": false, "zero": false}, "axis": null},
            "y2": {"field": "p2"}
          }
        },
        {
          "data": {"values": [{"a": "2021-02-28", "b": "2021-06-18", "p1": 0.02959, "p2": 0.08232}]},
          "mark": {"type": "rect", "fill": "#4caf50", "fillOpacity": 0.4, "stroke": "#a3c0a6", "strokeWidth": 1.5, "strokeOpacity": 0.9},
          "encoding": {
            "x": {"field": "a", "type": "temporal", "title": null, "scale": {"type": "utc", "domain": [{"year": 2018, "month": 12, "date": 3, "hours": 8, "utc": true}, {"year": 2029, "month": 9, "date": 19, "hours": 10, "utc": true}]}},
            "x2": {"field": "b"},
            "y": {"field": "p1", "type": "quantitative", "title": null, "scale": {"domain": [-0.00123, 0.09248], "nice": false, "zero": false}, "axis": null},
            "y2": {"field": "p2"}
          }
        },
        {
          "data": {"values": [{"a": "2018-12-02", "b": "2029-02-12", "p": 0.03204}]},
          "mark": {"type": "rule", "stroke": "#2962ff", "strokeWidth": 1, "strokeDash": [1, 3], "opacity": 0.8},
          "encoding": {
            "x": {"field": "a", "type": "temporal", "title": null, "scale": {"type": "utc", "domain": [{"year": 2018, "month": 12, "date": 3, "hours": 8, "utc": true}, {"year": 2029, "month": 9, "date": 19, "hours": 10, "utc": true}]}},
            "x2": {"field": "b"},
            "y": {"field": "p", "type": "quantitative", "title": null, "scale": {"domain": [-0.00123, 0.09248], "nice": false, "zero": false}, "axis": null}
          }
        },
        {
          "data": {"name": "redLines"},
          "mark": {"type": "rule", "stroke": "#f04a5c", "strokeWidth": 3},
          "encoding": {
            "x": {"field": "a", "type": "temporal", "title": null, "scale": {"type": "utc", "domain": [{"year": 2018, "month": 12, "date": 3, "hours": 8, "utc": true}, {"year": 2029, "month": 9, "date": 19, "hours": 10, "utc": true}]}},
            "x2": {"field": "b"},
            "y": {"field": "p", "type": "quantitative", "title": null, "scale": {"domain": [-0.00123, 0.09248], "nice": false, "zero": false}, "axis": null}
          }
        },
        {
          "data": {"values": [{"a": "2018-12-02", "b": "2029-02-12", "p": 0.07717}]},
          "mark": {"type": "rule", "stroke": "#ffffff", "strokeWidth": 3},
          "encoding": {
            "x": {"field": "a", "type": "temporal", "title": null, "scale": {"type": "utc", "domain": [{"year": 2018, "month": 12, "date": 3, "hours": 8, "utc": true}, {"year": 2029, "month": 9, "date": 19, "hours": 10, "utc": true}]}},
            "x2": {"field": "b"},
            "y": {"field": "p", "type": "quantitative", "title": null, "scale": {"domain": [-0.00123, 0.09248], "nice": false, "zero": false}, "axis": null}
          }
        },
        {
          "data": {"values": [{"a": "2021-10-08", "b": "2026-12-29", "p1": 0.0927, "p2": 0.02433}]},
          "mark": {"type": "rule", "stroke": "#f0a03c", "strokeWidth": 2},
          "encoding": {
            "x": {"field": "a", "type": "temporal", "title": null, "scale": {"type": "utc", "domain": [{"year": 2018, "month": 12, "date": 3, "hours": 8, "utc": true}, {"year": 2029, "month": 9, "date": 19, "hours": 10, "utc": true}]}},
            "x2": {"field": "b"},
            "y": {"field": "p1", "type": "quantitative", "title": null, "scale": {"domain": [-0.00123, 0.09248], "nice": false, "zero": false}, "axis": null},
            "y2": {"field": "p2"}
          }
        },
        {
          "data": {"name": "curve"},
          "mark": {"type": "line", "stroke": "#4fa865", "strokeWidth": 1.3, "interpolate": "monotone"},
          "encoding": {
            "x": {"field": "t", "type": "temporal", "title": null, "scale": {"type": "utc", "domain": [{"year": 2018, "month": 12, "date": 3, "hours": 8, "utc": true}, {"year": 2029, "month": 9, "date": 19, "hours": 10, "utc": true}]}},
            "y": {"field": "p", "type": "quantitative", "title": null, "scale": {"domain": [-0.00123, 0.09248], "nice": false, "zero": false}, "axis": null}
          }
        },
        {
          "data": {"values": [
            {"a": "2028-10-11", "b": "2028-09-19", "p1": 0.08954, "p2": 0.08877},
            {"a": "2028-10-11", "b": "2028-10-19", "p1": 0.08954, "p2": 0.08830}
          ]},
          "mark": {"type": "rule", "stroke": "#4fa865", "strokeWidth": 1.3},
          "encoding": {
            "x": {"field": "a", "type": "temporal", "title": null, "scale": {"type": "utc", "domain": [{"year": 2018, "month": 12, "date": 3, "hours": 8, "utc": true}, {"year": 2029, "month": 9, "date": 19, "hours": 10, "utc": true}]}},
            "x2": {"field": "b"},
            "y": {"field": "p1", "type": "quantitative", "title": null, "scale": {"domain": [-0.00123, 0.09248], "nice": false, "zero": false}, "axis": null},
            "y2": {"field": "p2"}
          }
        },
        {
          "data": {"values": [
            {"a": "2029-02-22", "b": "2029-09-07", "p1": 0.08846, "p2": 0.09186, "k": "btc"},
            {"a": "2029-02-12", "b": "2029-08-13", "p1": 0.07578, "p2": 0.07856, "k": "level"},
            {"a": "2029-02-12", "b": "2029-08-13", "p1": 0.02897, "p2": 0.03336, "k": "last"}
          ]},
          "mark": {"type": "rect", "cornerRadius": 2},
          "encoding": {
            "x": {"field": "a", "type": "temporal", "title": null, "scale": {"type": "utc", "domain": [{"year": 2018, "month": 12, "date": 3, "hours": 8, "utc": true}, {"year": 2029, "month": 9, "date": 19, "hours": 10, "utc": true}]}},
            "x2": {"field": "b"},
            "y": {"field": "p1", "type": "quantitative", "title": null, "scale": {"domain": [-0.00123, 0.09248], "nice": false, "zero": false}, "axis": null},
            "y2": {"field": "p2"},
            "color": {"field": "k", "type": "nominal", "scale": {"domain": ["btc", "level", "last"], "range": ["#0c0d10", "#ffffff", "#2962ff"]}, "legend": null}
          }
        },
        {
          "data": {"values": [
            {"s": "Ethereum / Bitcoin · 1W · Binance", "t": "2019-01-01", "p": 0.0900, "k": "lbl"},
            {"s": "O", "t": "2020-07-23", "p": 0.0900, "k": "lbl"},
            {"s": "0.02983", "t": "2020-08-20", "p": 0.0900, "k": "num"},
            {"s": "H", "t": "2021-01-26", "p": 0.0900, "k": "lbl"},
            {"s": "0.03342", "t": "2021-02-21", "p": 0.0900, "k": "num"},
            {"s": "L", "t": "2021-07-30", "p": 0.0900, "k": "lbl"},
            {"s": "0.02945", "t": "2021-08-25", "p": 0.0900, "k": "num"},
            {"s": "C", "t": "2022-01-28", "p": 0.0900, "k": "lbl"},
            {"s": "0.03204", "t": "2022-02-23", "p": 0.0900, "k": "num"}
          ]},
          "mark": {"type": "text", "align": "left", "baseline": "middle", "fontSize": 11, "font": "Inter"},
          "encoding": {
            "x": {"field": "t", "type": "temporal", "title": null, "scale": {"type": "utc", "domain": [{"year": 2018, "month": 12, "date": 3, "hours": 8, "utc": true}, {"year": 2029, "month": 9, "date": 19, "hours": 10, "utc": true}]}},
            "y": {"field": "p", "type": "quantitative", "title": null, "scale": {"domain": [-0.00123, 0.09248], "nice": false, "zero": false}, "axis": null},
            "text": {"field": "s"},
            "color": {"condition": {"test": "datum.k == 'num'", "value": "#4c7fe6"}, "value": "#d1d4dc"}
          }
        },
        {
          "data": {"values": [{"s": "Sell your Alts point", "t": "2026-01-21", "p": 0.0832}]},
          "mark": {"type": "text", "align": "center", "baseline": "middle", "fontSize": 11, "fontWeight": "bold", "color": "#eba03c", "font": "Inter"},
          "encoding": {
            "x": {"field": "t", "type": "temporal", "title": null, "scale": {"type": "utc", "domain": [{"year": 2018, "month": 12, "date": 3, "hours": 8, "utc": true}, {"year": 2029, "month": 9, "date": 19, "hours": 10, "utc": true}]}},
            "y": {"field": "p", "type": "quantitative", "title": null, "scale": {"domain": [-0.00123, 0.09248], "nice": false, "zero": false}, "axis": null},
            "text": {"field": "s"}
          }
        },
        {
          "data": {"values": [{"s": "monthly level", "t": "2029-01-18", "p": 0.07521}]},
          "mark": {"type": "text", "align": "right", "baseline": "middle", "fontSize": 12.5, "color": "#2b8f74", "font": "Inter"},
          "encoding": {
            "x": {"field": "t", "type": "temporal", "title": null, "scale": {"type": "utc", "domain": [{"year": 2018, "month": 12, "date": 3, "hours": 8, "utc": true}, {"year": 2029, "month": 9, "date": 19, "hours": 10, "utc": true}]}},
            "y": {"field": "p", "type": "quantitative", "title": null, "scale": {"domain": [-0.00123, 0.09248], "nice": false, "zero": false}, "axis": null},
            "text": {"field": "s"}
          }
        },
        {
          "data": {"values": [
            {"s": "BTC", "t": "2029-03-16", "p": 0.09016, "k": "btc"},
            {"s": "0.07717", "t": "2029-03-06", "p": 0.07717, "k": "level"},
            {"s": "0.03204", "t": "2029-03-06", "p": 0.03204, "k": "last"},
            {"s": "3d 16h", "t": "2029-03-06", "p": 0.0300, "k": "last"}
          ]},
          "mark": {"type": "text", "align": "left", "baseline": "middle", "fontSize": 11.5, "font": "Inter"},
          "encoding": {
            "x": {"field": "t", "type": "temporal", "title": null, "scale": {"type": "utc", "domain": [{"year": 2018, "month": 12, "date": 3, "hours": 8, "utc": true}, {"year": 2029, "month": 9, "date": 19, "hours": 10, "utc": true}]}},
            "y": {"field": "p", "type": "quantitative", "title": null, "scale": {"domain": [-0.00123, 0.09248], "nice": false, "zero": false}, "axis": null},
            "text": {"field": "s"},
            "color": {"condition": {"test": "datum.k == 'level'", "value": "#131722"}, "value": "#ffffff"},
            "fontWeight": {"condition": {"test": "datum.k == 'btc'", "value": "bold"}, "value": "normal"}
          }
        },
        {
          "data": {"values": [{"s": "17", "t": "2018-12-13", "p": -0.0057}]},
          "mark": {"type": "text", "align": "left", "baseline": "middle", "fontSize": 22, "fontWeight": 900, "color": "#e6e6e6", "font": "Inter"},
          "encoding": {
            "x": {"field": "t", "type": "temporal", "title": null, "scale": {"type": "utc", "domain": [{"year": 2018, "month": 12, "date": 3, "hours": 8, "utc": true}, {"year": 2029, "month": 9, "date": 19, "hours": 10, "utc": true}]}},
            "y": {"field": "p", "type": "quantitative", "title": null, "scale": {"domain": [-0.00123, 0.09248], "nice": false, "zero": false}, "axis": null},
            "text": {"field": "s"}
          }
        },
        {
          "data": {"values": [{"s": "TradingView", "t": "2019-03-28", "p": -0.0057}]},
          "mark": {"type": "text", "align": "left", "baseline": "middle", "fontSize": 19, "fontWeight": 600, "color": "#e6e6e6", "font": "Inter"},
          "encoding": {
            "x": {"field": "t", "type": "temporal", "title": null, "scale": {"type": "utc", "domain": [{"year": 2018, "month": 12, "date": 3, "hours": 8, "utc": true}, {"year": 2029, "month": 9, "date": 19, "hours": 10, "utc": true}]}},
            "y": {"field": "p", "type": "quantitative", "title": null, "scale": {"domain": [-0.00123, 0.09248], "nice": false, "zero": false}, "axis": null},
            "text": {"field": "s"}
          }
        },
        {
          "data": {"values": [{"s": "❖", "t": "2027-10-23", "p": -0.0057}]},
          "mark": {"type": "text", "align": "center", "baseline": "middle", "fontSize": 26, "color": "#dcdcdc", "font": "DejaVu Sans"},
          "encoding": {
            "x": {"field": "t", "type": "temporal", "title": null, "scale": {"type": "utc", "domain": [{"year": 2018, "month": 12, "date": 3, "hours": 8, "utc": true}, {"year": 2029, "month": 9, "date": 19, "hours": 10, "utc": true}]}},
            "y": {"field": "p", "type": "quantitative", "title": null, "scale": {"domain": [-0.00123, 0.09248], "nice": false, "zero": false}, "axis": null},
            "text": {"field": "s"}
          }
        },
        {
          "data": {"values": [{"s": "@ GalaxyTrading 1", "t": "2027-12-12", "p": -0.0057}]},
          "mark": {"type": "text", "align": "left", "baseline": "middle", "fontSize": 23, "color": "#dcdcdc", "font": "Open Sans"},
          "encoding": {
            "x": {"field": "t", "type": "temporal", "title": null, "scale": {"type": "utc", "domain": [{"year": 2018, "month": 12, "date": 3, "hours": 8, "utc": true}, {"year": 2029, "month": 9, "date": 19, "hours": 10, "utc": true}]}},
            "y": {"field": "p", "type": "quantitative", "title": null, "scale": {"domain": [-0.00123, 0.09248], "nice": false, "zero": false}, "axis": null},
            "text": {"field": "s"}
          }
        }
      ]
    }
  ]
}
